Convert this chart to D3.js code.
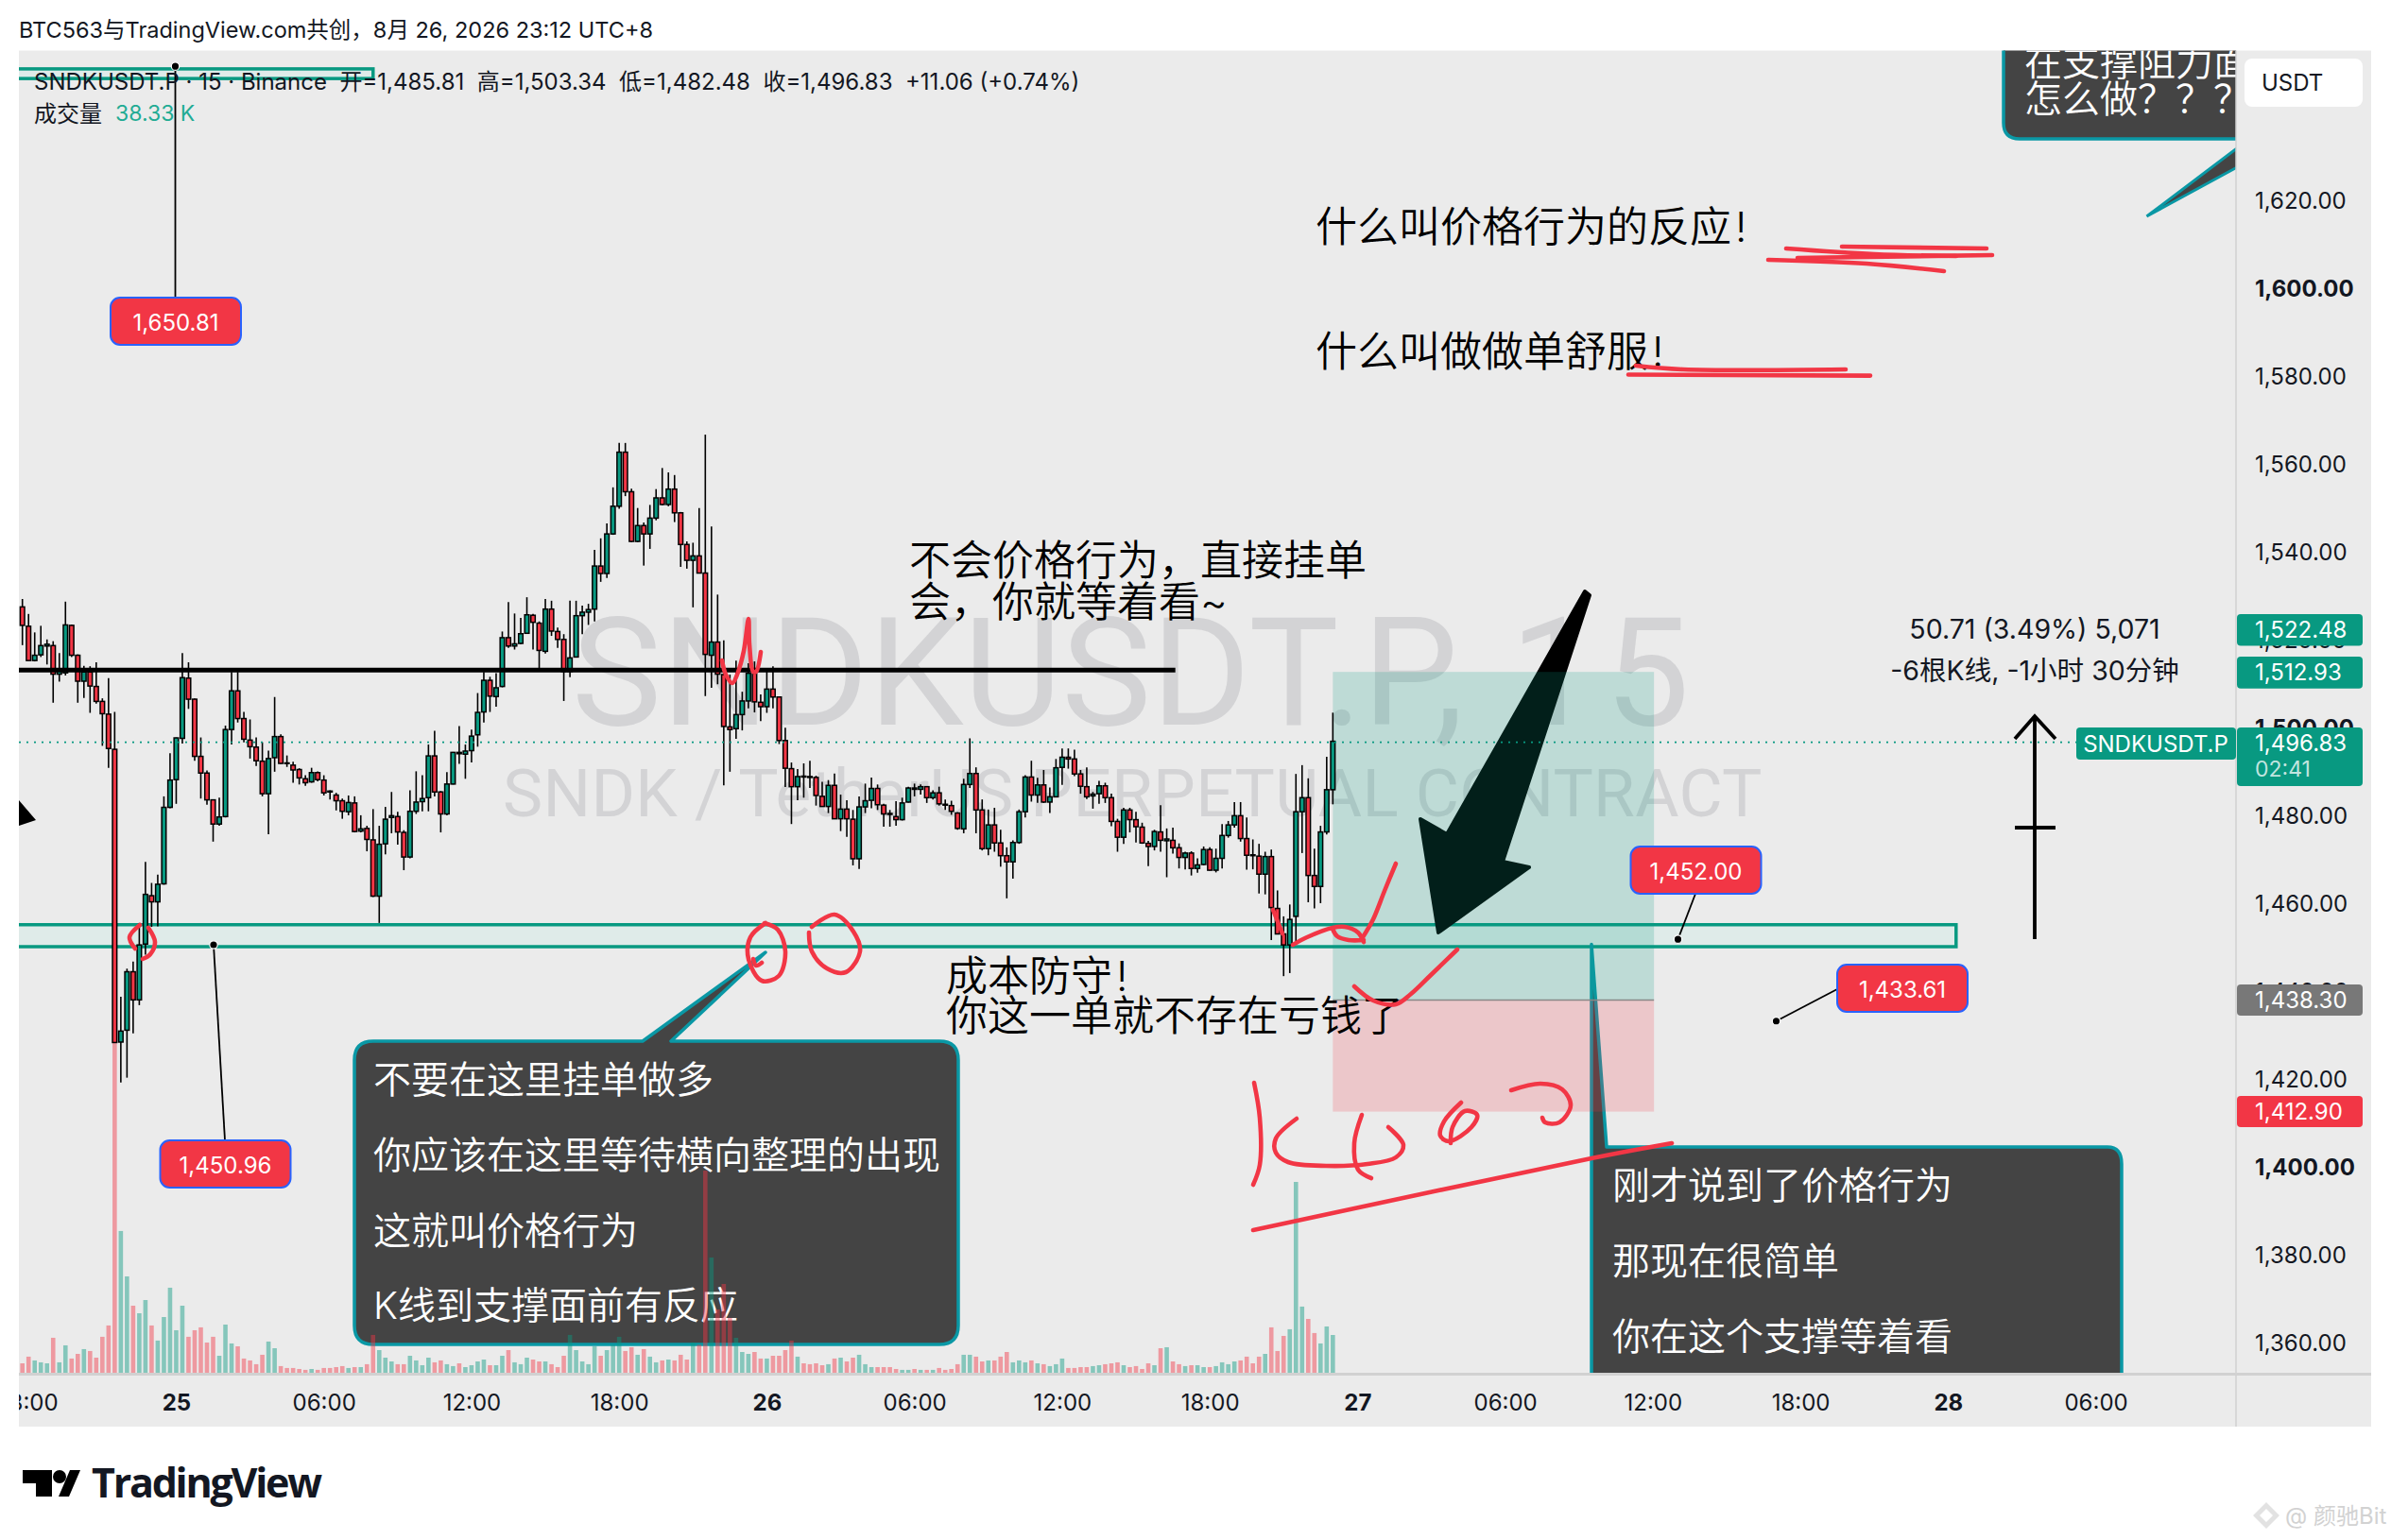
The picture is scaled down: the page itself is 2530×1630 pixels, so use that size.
<!DOCTYPE html>
<html><head><meta charset="utf-8">
<style>html,body{margin:0;padding:0;background:#fff}svg{display:block}text{font-family:Inter,"Noto Sans CJK SC",sans-serif}</style>
<script src="https://cdn.jsdelivr.net/npm/d3@7/dist/d3.min.js"></script></head><body><div id="c"></div>
<script>
const opens=[1527.4,1523.0,1515.2,1516.5,1518.5,1518.6,1512.1,1512.4,1523.2,1516.4,
1510.5,1512.6,1509.3,1505.9,1503.0,1495.0,1428.4,1431.1,1444.4,1438.0,
1450.7,1461.7,1460.3,1464.4,1481.8,1488.1,1497.5,1511.2,1506.4,1493.4,
1489.6,1483.5,1478.0,1479.7,1499.5,1508.3,1502.0,1497.1,1495.5,1492.3,
1484.9,1493.1,1497.9,1491.9,1491.4,1490.4,1488.3,1487.6,1489.7,1488.0,
1485.5,1484.6,1483.3,1480.8,1482.8,1476.4,1477.0,1474.4,1461.6,1473.5,
1479.5,1479.7,1476.1,1470.5,1480.9,1483.1,1484.0,1493.5,1485.3,1480.3,
1487.1,1494.3,1493.9,1494.7,1498.3,1503.5,1510.7,1507.0,1509.3,1520.4,
1518.5,1519.1,1521.4,1525.5,1523.7,1517.3,1526.9,1521.8,1520.0,1512.7,
1516.0,1525.4,1526.2,1526.9,1536.7,1535.0,1544.0,1550.3,1562.6,1553.6,
1542.3,1545.9,1544.0,1547.6,1552.2,1550.7,1554.2,1548.8,1541.6,1538.0,
1539.0,1535.1,1516.4,1519.4,1512.0,1500.1,1499.7,1502.9,1506.0,1512.2,
1505.7,1504.7,1508.7,1506.9,1497.0,1490.6,1486.5,1488.9,1488.8,1488.6,
1484.3,1482.0,1486.8,1479.2,1481.4,1479.1,1470.1,1481.9,1483.4,1486.1,
1482.3,1480.4,1479.7,1479.0,1483.0,1486.2,1485.9,1486.5,1484.0,1485.1,
1482.5,1482.2,1480.5,1476.9,1487.0,1489.5,1481.2,1472.4,1477.8,1473.7,
1470.8,1469.4,1473.8,1480.8,1488.7,1484.6,1486.9,1483.0,1484.2,1490.9,
1493.2,1492.8,1489.4,1486.5,1484.4,1484.9,1486.7,1484.0,1478.6,1475.0,
1481.2,1479.0,1477.3,1473.6,1472.9,1476.2,1474.2,1474.3,1472.6,1470.4,
1471.4,1467.9,1468.8,1472.2,1467.5,1470.2,1475.4,1477.8,1479.9,1474.7,
1471.0,1470.7,1466.6,1470.6,1458.8,1453.0,1450.5,1457.0,1480.8,1484.0,
1466.3,1463.8,1476.2,1485.81];
const closes=[1523.2,1515.2,1516.4,1518.6,1518.9,1512.1,1513.3,1523.3,1516.4,1510.5,
1512.6,1509.4,1505.9,1503.1,1495.2,1428.3,1430.9,1444.4,1438.0,1450.5,
1462.0,1460.3,1464.3,1481.8,1488.0,1497.6,1511.3,1506.4,1493.4,1489.6,
1483.5,1478.0,1479.6,1499.5,1508.3,1502.0,1497.3,1495.6,1492.4,1484.9,
1492.9,1497.9,1491.8,1491.8,1490.3,1488.5,1487.4,1489.7,1488.1,1485.1,
1485.3,1483.3,1480.9,1482.9,1476.3,1476.9,1474.5,1461.6,1473.4,1479.1,
1479.9,1476.2,1470.5,1480.9,1483.0,1483.8,1493.5,1485.3,1480.3,1487.1,
1494.3,1494.0,1494.6,1498.0,1503.4,1510.7,1507.1,1509.0,1520.4,1518.5,
1519.0,1521.3,1525.6,1523.9,1517.5,1526.9,1521.9,1520.0,1512.7,1515.8,
1525.4,1526.2,1526.8,1536.7,1535.0,1544.0,1550.3,1562.6,1553.6,1542.3,
1545.9,1544.0,1547.6,1552.2,1550.7,1554.2,1548.8,1541.6,1538.0,1539.0,
1535.1,1516.6,1519.4,1512.1,1500.2,1499.5,1502.9,1506.0,1512.3,1505.8,
1504.7,1508.7,1506.9,1497.0,1490.7,1486.5,1488.8,1488.7,1488.6,1484.5,
1482.0,1486.8,1479.2,1481.4,1479.2,1470.1,1481.9,1483.3,1486.1,1482.4,
1480.3,1480.2,1479.0,1482.8,1486.2,1485.9,1486.5,1484.0,1485.1,1482.6,
1482.3,1480.9,1477.0,1487.0,1489.5,1481.2,1472.4,1477.8,1473.7,1470.8,
1469.4,1473.8,1480.8,1488.7,1484.6,1486.9,1483.0,1484.2,1490.8,1493.2,
1492.8,1489.4,1486.6,1484.2,1484.8,1486.7,1484.0,1478.6,1475.0,1481.2,
1479.0,1477.4,1473.7,1472.9,1476.3,1474.3,1474.6,1472.6,1470.4,1471.4,
1467.9,1468.7,1472.2,1467.5,1470.2,1475.4,1477.8,1479.9,1474.7,1470.9,
1470.8,1466.6,1470.6,1459.0,1453.0,1450.5,1456.3,1480.8,1484.0,1466.3,
1463.8,1476.2,1485.81,1496.83];
const highs=[1529.2,1525.8,1521.6,1523.1,1520.0,1519.6,1516.9,1528.6,1523.4,1516.6,
1514.0,1513.9,1514.8,1506.6,1511.2,1503.5,1438.7,1445.1,1446.7,1455.5,
1469.4,1464.6,1466.5,1484.3,1494.1,1497.7,1516.9,1514.8,1506.6,1497.7,
1490.2,1483.6,1484.0,1500.4,1512.6,1512.6,1503.5,1501.8,1497.7,1496.6,
1494.7,1506.9,1498.4,1493.6,1492.2,1490.7,1489.1,1490.8,1490.0,1489.1,
1485.7,1485.1,1483.8,1484.5,1484.3,1480.0,1477.6,1481.4,1477.6,1481.9,
1485.3,1480.8,1476.6,1485.7,1490.0,1489.1,1496.1,1499.2,1485.5,1489.8,
1494.4,1500.3,1496.1,1499.5,1507.8,1512.6,1511.5,1512.3,1521.8,1528.5,
1525.9,1524.9,1529.6,1525.8,1524.1,1529.2,1528.8,1522.7,1521.2,1528.8,
1528.8,1527.7,1528.1,1540.4,1543.0,1546.4,1554.6,1564.7,1564.7,1554.3,
1549.9,1546.6,1550.6,1554.2,1559.0,1558.0,1557.4,1549.0,1542.3,1542.0,
1549.9,1566.6,1545.7,1530.2,1519.8,1512.0,1515.2,1508.1,1514.6,1515.0,
1507.5,1512.7,1513.9,1507.0,1499.9,1492.0,1490.5,1491.8,1492.4,1489.0,
1487.6,1488.0,1489.5,1484.7,1483.4,1481.2,1484.3,1487.2,1488.6,1487.0,
1482.6,1481.2,1483.2,1484.0,1486.5,1487.2,1487.0,1486.6,1485.7,1486.5,
1483.6,1483.3,1480.7,1488.3,1497.5,1490.9,1483.6,1481.3,1481.7,1476.7,
1472.7,1474.3,1481.3,1489.1,1492.4,1488.5,1490.3,1486.3,1492.8,1495.2,
1495.2,1494.9,1490.3,1490.9,1485.3,1487.8,1487.4,1484.9,1479.2,1481.7,
1481.7,1480.8,1478.3,1474.2,1476.7,1482.3,1477.0,1477.2,1473.6,1471.7,
1471.8,1470.2,1472.9,1472.7,1472.4,1478.0,1478.7,1483.0,1483.0,1479.5,
1474.5,1473.5,1471.7,1472.2,1462.9,1457.0,1459.7,1489.4,1491.4,1488.4,
1472.4,1477.6,1493.3,1503.34];
const lows=[1518.7,1515.2,1515.0,1516.0,1514.3,1505.6,1510.4,1511.8,1516.0,1505.6,
1506.7,1503.3,1505.4,1495.8,1490.8,1428.2,1419.2,1420.3,1430.4,1436.8,
1448.3,1454.6,1454.7,1464.2,1481.6,1482.6,1496.3,1504.2,1492.4,1483.8,
1482.4,1474.0,1477.6,1479.5,1496.1,1501.1,1496.6,1492.9,1491.2,1484.3,
1475.7,1489.9,1491.7,1491.0,1487.4,1487.0,1486.7,1487.4,1487.7,1484.5,
1483.6,1481.1,1479.2,1480.0,1476.1,1476.1,1471.8,1461.4,1455.5,1471.1,
1475.9,1473.3,1467.5,1470.2,1480.3,1480.9,1480.9,1484.3,1476.1,1480.0,
1487.0,1491.7,1488.3,1492.0,1495.6,1501.1,1503.5,1504.7,1509.1,1518.1,
1517.7,1518.9,1521.3,1517.7,1513.5,1516.8,1520.8,1518.1,1506.0,1511.4,
1515.9,1521.2,1523.3,1524.1,1533.1,1534.0,1543.8,1549.7,1552.6,1542.1,
1542.1,1536.8,1540.6,1547.1,1550.5,1550.3,1546.7,1536.5,1536.1,1527.3,
1535.0,1507.1,1509.0,1509.8,1486.8,1489.9,1497.4,1499.3,1504.3,1503.4,
1501.4,1503.3,1504.3,1496.2,1486.4,1478.0,1483.4,1484.0,1486.2,1482.2,
1481.9,1480.5,1479.1,1476.4,1475.1,1468.6,1467.8,1480.5,1481.6,1481.2,
1477.4,1477.4,1477.6,1478.8,1482.9,1484.3,1484.7,1482.8,1483.6,1482.2,
1481.2,1480.1,1476.7,1475.9,1486.2,1475.9,1472.0,1470.9,1471.7,1468.3,
1461.1,1465.6,1473.5,1479.5,1483.1,1482.8,1482.8,1480.5,1484.2,1486.9,
1490.6,1488.9,1484.9,1483.7,1481.5,1482.6,1482.8,1477.5,1471.7,1473.5,
1476.1,1473.8,1473.5,1468.4,1472.0,1471.7,1465.9,1471.3,1467.9,1467.7,
1466.3,1466.9,1468.6,1467.4,1467.0,1467.9,1474.9,1477.2,1474.0,1467.6,
1467.7,1462.2,1462.0,1451.6,1452.9,1443.4,1444.1,1451.2,1471.4,1460.2,
1458.8,1460.0,1475.6,1482.48];
const volumes=[9.8,16.5,12.7,10.8,9.8,35.5,10.8,27.9,14.6,19.3,
24.1,22.2,15.5,36.5,47.9,340,143,97.3,67.8,60.2,
73.5,47.9,32.7,56.4,85.9,43.1,67.8,36.5,43.1,46.0,
30.7,36.5,17.4,48.8,29.8,26.9,14.6,12.7,8.9,18.4,
31.7,25,7,5.1,5.1,4.1,3.2,4.1,3.2,5.1,
5.1,6,7,5.1,6,6,8.9,38.4,23.1,15.5,
11.7,8.9,8.9,17.4,12.7,7.9,15.5,10.8,12.7,8.9,
7,9.8,6,7.9,11.7,13.6,7.9,7.9,17.4,23.1,
10.8,8.9,15.5,13.6,11.7,11.7,8.9,6,17.4,38.4,
23.1,11.7,8.9,26.9,17.4,23.1,28.5,36.5,22.2,26,
18.4,24.1,16.5,10.8,12.7,13.6,12.7,18.4,13.6,30.7,
28.5,203.8,116.3,64,89.7,55.5,35.5,21.2,19.3,21.2,
14.6,14.6,17.4,17.4,23.1,32.7,16.5,9.8,8.9,9.8,
7.9,8.9,14.6,15.5,11.7,15.5,18.4,8.9,6,6,
6,6,4.1,3.2,3.2,4.1,3.2,3.2,3.2,5.1,
3.2,4.1,8.9,18.4,18.4,16.5,11.7,12.7,12.7,16.5,
21.2,10.8,12.7,10.8,12.7,9.8,8.9,7,8.9,14.6,
5.1,5.1,6,6,7,7.9,8.9,9.8,10.8,7.9,
6,7,4.1,9.8,7.9,25,26,11.7,8.9,7,
7.9,7.9,6,6,7,10.8,8.9,11.7,12.7,16.5,
9.8,16.5,19.3,46,22.2,37.4,44.1,192.4,66.9,54.5,
40.3,29.8,46.9,38.33];
const priceTicks=[1360,1380,1400,1420,1440,1460,1480,1500,1520,1540,1560,1580,1600,1620];
const boldPrices=[1400,1500,1600];
const firstBar=Date.UTC(2026,7,24,17,45), barMs=15*60000, lastIndex=213;
const axisStart=Date.UTC(2026,7,24,18), axisEnd=Date.UTC(2026,7,28,6,1);

const W=2530,H=1630,L=20,R=2366,T=53.5,B=1454,FR=2509,FB=1510;
const RED="#f23645",TEAL="#089981",BLUE="#2962ff",CYAN="#0a98a5",NOTE=350;
const x=d3.scaleUtc().domain([firstBar,firstBar+lastIndex*barMs]).range([23.7,23.7+lastIndex*6.51]);
const y=d3.scaleLinear().domain([1600,1360]).range([304.6,1421.2]);
const yv=d3.scaleLinear().domain([0,100]).range([1453.3,1348.15]);
const xb=i=>x(firstBar+i*barMs);
const bars=d3.range(opens.length).map(i=>({i,o:opens[i],c:closes[i],h:highs[i],l:lows[i],v:volumes[i],up:closes[i]>=opens[i]}));
const svg=d3.select("#c").append("svg").attr("width",W).attr("height",H).attr("viewBox",`0 0 ${W} ${H}`);
const defs=svg.append("defs");
defs.append("clipPath").attr("id","pane").append("rect").attr("x",L).attr("y",T).attr("width",R-L).attr("height",B-T);
defs.append("clipPath").attr("id","taxis").append("rect").attr("x",L).attr("y",B).attr("width",R-L).attr("height",FB-B);
svg.append("rect").attr("x",L).attr("y",T).attr("width",FR-L).attr("height",FB-T).attr("fill","#ebebeb");
const pane=svg.append("g").attr("clip-path","url(#pane)");
// watermark
[["SNDKUSDT.P,",605,767,160,0],["15",1598,767,160,10],["SNDK / TetherUS PERPETUAL CONTRACT",532,864,71,0.3]].forEach(t=>pane.append("text").attr("x",t[1]).attr("y",t[2]).attr("font-size",t[3]).attr("letter-spacing",t[4]).attr("fill","#d3d3d5").style("font-family","Roboto").text(t[0]));
// support band
function band(p1,p2,i1,i2){pane.append("rect").attr("x",xb(i1)).attr("y",y(p1)).attr("width",xb(i2)-xb(i1)).attr("height",y(p2)-y(p1)).attr("fill","#dfebe9").attr("stroke",TEAL).attr("stroke-width",3.5);}
band(1455.1,1450.1,-6,314.3);
band(1649.8,1647.6,-6,57);
// callouts
function callout(d,tx,lines){pane.append("path").attr("d",d).attr("fill","#444").attr("stroke",CYAN).attr("stroke-width",3.5).attr("stroke-linejoin","round");
 lines.forEach(l=>pane.append("text").attr("x",tx).attr("y",l[1]).attr("dominant-baseline","central").attr("font-size",l[2]||40).attr("font-weight",NOTE).attr("fill","#fff").text(l[0]));}
callout("M395,1102 H680 L810,1008 L710,1102 H994 Q1014,1102 1014,1122 V1403 Q1014,1423 994,1423 H395 Q375,1423 375,1403 V1122 Q375,1102 395,1102 Z",395,[["不要在这里挂单做多",1142],["你应该在这里等待横向整理的出现",1222],["这就叫价格行为",1302],["K线到支撑面前有反应",1381.5]]);
callout("M1684,999.5 L1700,1214 H2230 Q2245,1214 2245,1232 V1500 H1684 Z",1706,[["刚才说到了价格行为",1254],["那现在很简单",1334],["你在这个支撑等着看",1414]]);
callout("M2120,20 V130 Q2120,147 2137,147 H2420 V20 Z",2142,[["在支撑阻力面",65],["怎么做？？？",104]]);
pane.append("path").attr("d","M2380,147 L2271.5,229 L2380,170 Z").attr("fill","#444").attr("stroke",CYAN).attr("stroke-width",3);
// big arrow beneath the position box
pane.append("path").attr("d","M1677,626 L1682,630 L1590,912 L1618,918 L1522,987 L1503,867 L1531,883 Z").attr("fill","#000").attr("stroke","#000").attr("stroke-width",4).attr("stroke-linejoin","round");
pane.append("path").attr("d","M20,847 L38,868 L20,874 Z").attr("fill","#000");
// position box (drawn 1.5 px below the price scale like the tags on the axis)
const bx1=xb(lastIndex),bx2=xb(lastIndex+52.2),bo=1.5;
pane.append("rect").attr("x",bx1).attr("y",y(1512.93)+bo).attr("width",bx2-bx1).attr("height",y(1438.30)-y(1512.93)).attr("fill",TEAL).attr("fill-opacity",.2);
pane.append("rect").attr("x",bx1).attr("y",y(1438.30)+bo).attr("width",bx2-bx1).attr("height",y(1412.90)-y(1438.30)).attr("fill",RED).attr("fill-opacity",.2);
pane.append("line").attr("x1",bx1).attr("x2",bx2).attr("y1",y(1438.30)+bo).attr("y2",y(1438.30)+bo).attr("stroke","#888").attr("stroke-width",1.5);
// volume
pane.append("g").selectAll("rect").data(bars).join("rect").attr("x",d=>xb(d.i)-2.3).attr("width",4.6).attr("y",d=>yv(d.v)).attr("height",d=>yv(0)-yv(d.v)).attr("fill",d=>d.up?TEAL:RED).attr("fill-opacity",.45);
// candles
const cg=pane.append("g");
cg.selectAll("line").data(bars).join("line").attr("x1",d=>xb(d.i)).attr("x2",d=>xb(d.i)).attr("y1",d=>y(d.h)).attr("y2",d=>y(d.l)).attr("stroke","#000").attr("stroke-width",1.6);
cg.selectAll("rect").data(bars).join("rect").attr("x",d=>xb(d.i)-2.3).attr("width",4.6).attr("y",d=>y(Math.max(d.o,d.c))).attr("height",d=>Math.max(.6,y(Math.min(d.o,d.c))-y(Math.max(d.o,d.c)))).attr("fill",d=>d.up?TEAL:RED).attr("stroke","#000").attr("stroke-width",1.5);
// lines
pane.append("line").attr("x1",L).attr("x2",xb(187.4)).attr("y1",y(1513)).attr("y2",y(1513)).attr("stroke","#000").attr("stroke-width",5);
pane.append("line").attr("x1",L).attr("x2",2197).attr("y1",y(1496.83)+1).attr("y2",y(1496.83)+1).attr("stroke",TEAL).attr("stroke-width",1.6).attr("stroke-dasharray","2 6");
// vertical arrow
pane.append("path").attr("d","M2153,994 V758 M2132,782 L2153,758 L2175,782 M2132,876 H2175").attr("fill","none").attr("stroke","#000").attr("stroke-width",3.8);
// price notes
function note(px,py,lx,ly,rx,ry,val){pane.append("line").attr("x1",px).attr("y1",py).attr("x2",lx).attr("y2",ly).attr("stroke","#000").attr("stroke-width",1.8);
 pane.append("circle").attr("cx",px).attr("cy",py).attr("r",4.2).attr("fill","#000").attr("stroke","#fff").attr("stroke-width",1.2);
 pane.append("rect").attr("x",rx).attr("y",ry).attr("width",138).attr("height",50).attr("rx",10).attr("fill",RED).attr("stroke",BLUE).attr("stroke-width",2);
 pane.append("text").attr("x",rx+69).attr("y",ry+26).attr("text-anchor","middle").attr("dominant-baseline","central").attr("font-size",24).attr("fill","#fff").text(d3.format(",.2f")(val));}
note(185.5,y(1650.81)+2,185.5,315,117,315,1650.81);
note(226,y(1450.96)+2,238,1207,169.5,1207,1450.96);
note(1775.5,y(1452)+1,1794,946,1725.5,896,1452);
note(1879.5,y(1433.61)+2,1944,1047,1944,1021,1433.61);
// text notes
[["什么叫价格行为的反应\u200a!",1392,240],["什么叫做做单舒服\u200a!",1392,372],["不会价格行为，直接挂单",962,593],["会，你就等着看~",962,637],["成本防守\u200a!",1001,1033],["你这一单就不存在亏钱了",1001,1075]].forEach(t=>pane.append("text").attr("x",t[1]).attr("y",t[2]).attr("dominant-baseline","central").attr("font-size",44).attr("font-weight",NOTE).attr("fill","#000").text(t[0]));
pane.append("text").attr("x",2153).attr("y",665).attr("text-anchor","middle").attr("dominant-baseline","central").attr("font-size",28.5).attr("fill","#131722").text("50.71 (3.49%) 5,071");
pane.append("text").attr("x",2153).attr("y",709.5).attr("text-anchor","middle").attr("dominant-baseline","central").attr("font-size",28.5).attr("fill","#131722").text("-6根K线, -1小时 30分钟");
// freehand scribbles
const scribbles=[
[[1890,263],[1983,269],[2070,271]],[[1949,261],[2102,263]],[[1902,273],[2108,270]],[[1871,275],[1975,279],[2057,287]],
[[1731,387],[1781,391],[1953,391]],[[1723,396.5],[1979,397.6]],
[[148,979],[137,992],[143,1004]],[[157,982],[164,997],[159,1010],[151,1015]],
[[764,699],[768,714],[775,723],[780,714],[787,689],[792,655],[793,682],[797,711],[800,711],[805,690]],
[[810,977],[794,992],[792,1015],[806,1038],[824,1033],[831,1007],[823,984],[809,977]],[[797,1015],[800,1022],[806,1019]],
[[859,981],[883,968],[903,986],[910,1007],[895,1029],[875,1025],[859,1007],[856,987]],
[[1347,963],[1357,988]],[[1368,1000],[1383,992],[1410,982],[1423,981],[1437,987],[1443,997]],[[1443,995],[1427,995],[1415,991],[1410,983]],
[[1442,992],[1453,973],[1465,943],[1477,914]],
[[1542,1005],[1513,1033],[1493,1052],[1477,1063],[1453,1059],[1433,1044]],
[[1327,1146],[1333,1183],[1333,1233],[1326,1254]],
[[1372,1184],[1350,1205],[1350,1220],[1363,1230],[1403,1234],[1447,1232],[1477,1225],[1485,1212],[1469,1193]],
[[1441,1180],[1433,1210],[1437,1238],[1451,1247]],
[[1546,1167],[1528,1187],[1524,1202],[1533,1208],[1557,1193],[1563,1180],[1550,1176],[1537,1193],[1535,1210]],
[[1599,1154],[1630,1147],[1653,1153],[1662,1170],[1650,1188],[1635,1188],[1632,1183]],
[[1326,1302],[1684,1226],[1769,1210]]];
const sl=d3.line().curve(d3.curveCatmullRom.alpha(.5));
pane.append("g").selectAll("path").data(scribbles).join("path").attr("d",sl).attr("fill","none").attr("stroke",RED).attr("stroke-width",4.6).attr("stroke-linecap","round").attr("stroke-linejoin","round");
// axes
svg.append("line").attr("x1",L).attr("x2",FR).attr("y1",B+.5).attr("y2",B+.5).attr("stroke","#d1d1d1").attr("stroke-width",3);
svg.append("line").attr("x1",R).attr("x2",R).attr("y1",T).attr("y2",FB).attr("stroke","#d1d1d1").attr("stroke-width",1.5);
const ya=svg.append("g").attr("transform","translate(2386,0)").call(d3.axisRight(y).tickValues(priceTicks).tickSize(0).tickPadding(0).tickFormat(d3.format(",.2f")));
ya.select(".domain").remove();
ya.selectAll("text").attr("dy",0).attr("dominant-baseline","central").attr("font-size",24).attr("fill","#131722").style("font-family","Inter").attr("font-weight",d=>boldPrices.includes(d)?700:400);
const tTicks=d3.utcHour.every(6).range(axisStart,axisEnd);
const xa=svg.append("g").attr("clip-path","url(#taxis)").append("g").attr("transform","translate(0,1484)").call(d3.axisBottom(x).tickValues(tTicks).tickSize(0).tickPadding(0).tickFormat(d=>d.getUTCHours()===0?String(d.getUTCDate()):d3.utcFormat("%H:%M")(d)));
xa.select(".domain").remove();
xa.selectAll("text").attr("dy",0).attr("y",0).attr("dominant-baseline","central").attr("font-size",24).attr("fill","#131722").style("font-family","Inter").attr("font-weight",d=>d.getUTCHours()===0?700:400);
// price tags
function tag(py,h,fill,txt){svg.append("rect").attr("x",2367).attr("y",py).attr("width",133).attr("height",h).attr("rx",4).attr("fill",fill);
 svg.append("text").attr("x",2386).attr("y",py+h/2).attr("dominant-baseline","central").attr("font-size",24).attr("fill","#fff").text(txt);}
tag(650,33.5,TEAL,"1,522.48");tag(695,33.7,TEAL,"1,512.93");tag(1042,33,"#787878","1,438.30");tag(1160,33,RED,"1,412.90");
svg.append("rect").attr("x",2367).attr("y",770).attr("width",133).attr("height",62).attr("rx",4).attr("fill",TEAL);
svg.append("text").attr("x",2386).attr("y",786).attr("dominant-baseline","central").attr("font-size",24).attr("fill","#fff").text("1,496.83");
svg.append("text").attr("x",2386).attr("y",814).attr("dominant-baseline","central").attr("font-size",23).attr("fill","#fff").attr("fill-opacity",.75).text("02:41");
svg.append("rect").attr("x",2197).attr("y",770).attr("width",169).attr("height",34).attr("rx",4).attr("fill",TEAL);
svg.append("text").attr("x",2281).attr("y",787).attr("text-anchor","middle").attr("dominant-baseline","central").attr("font-size",24).attr("fill","#fff").text("SNDKUSDT.P");
svg.append("rect").attr("x",2375).attr("y",62).attr("width",125).attr("height",51).attr("rx",8).attr("fill","#fff");
svg.append("text").attr("x",2393).attr("y",87.5).attr("dominant-baseline","central").attr("font-size",24).attr("fill","#131722").text("USDT");
// header and legend
svg.append("text").attr("x",20).attr("y",31).attr("dominant-baseline","central").attr("font-size",23.5).attr("fill","#131722").text("BTC563与TradingView.com共创，8月 26, 2026 23:12 UTC+8");
svg.append("text").attr("x",36).attr("y",86).attr("dominant-baseline","central").attr("font-size",24).attr("fill","#131722").attr("xml:space","preserve").text("SNDKUSDT.P · 15 · Binance  开=1,485.81  高=1,503.34  低=1,482.48  收=1,496.83  +11.06 (+0.74%)");
svg.append("text").attr("x",36).attr("y",120).attr("dominant-baseline","central").attr("font-size",24).attr("fill","#131722").text("成交量");
svg.append("text").attr("x",122).attr("y",120).attr("dominant-baseline","central").attr("font-size",23).attr("fill","#22ab94").text("38.33 K");
// footer
svg.append("path").attr("d","M24,1556 H55 V1584 H38 V1570 H24 Z M62,1584 L74,1556 H85 L73,1584 Z").attr("fill","#000");
svg.append("circle").attr("cx",63).attr("cy",1563).attr("r",7).attr("fill","#000");
svg.append("text").attr("x",97).attr("y",1568).attr("dominant-baseline","central").attr("font-size",43).attr("font-weight",700).attr("fill","#131722").attr("textLength",244).style("font-family","'Open Sans'").text("TradingView");
svg.append("path").attr("d","M2398,1590 L2412,1604 L2398,1618 L2384,1604 Z M2398,1597 L2405,1604 L2398,1611 L2391,1604 Z").attr("fill","#e2e2e2").attr("fill-rule","evenodd");
svg.append("text").attr("x",2418).attr("y",1604).attr("dominant-baseline","central").attr("font-size",24).attr("fill","#d2d2d2").text("@ 颜驰Bit");
</script></body></html>
